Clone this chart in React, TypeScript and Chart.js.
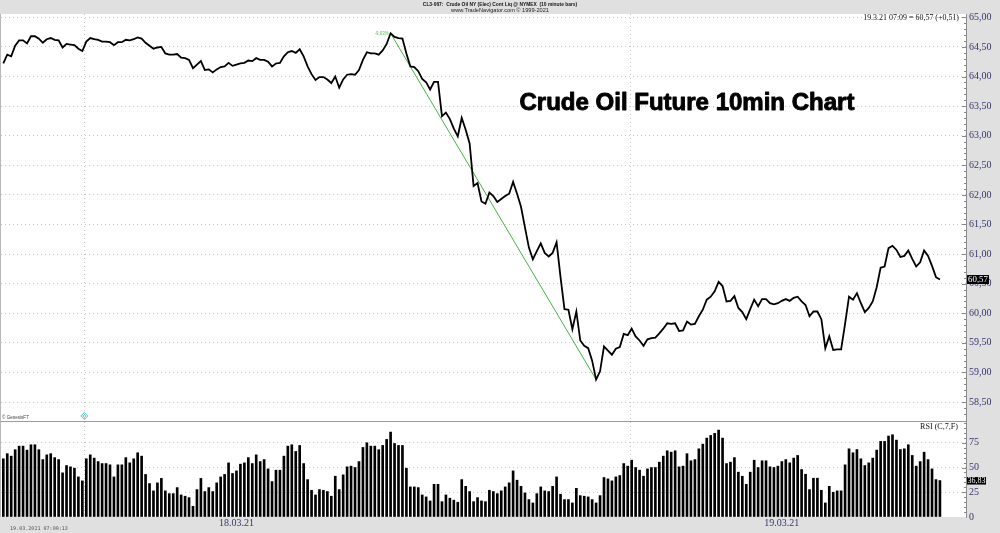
import React, { useEffect, useRef } from 'react';
import { Chart, registerables } from 'chart.js';

Chart.register(...registerables);

// ---- Data ----
const priceFirstDay = [
  64.22, 64.37, 64.34, 64.52, 64.61, 64.61, 64.56, 64.68, 64.68, 64.64,
  64.57, 64.63, 64.65, 64.62, 64.61, 64.49, 64.55, 64.54, 64.53, 64.47,
  64.43, 64.59, 64.65, 64.63, 64.62, 64.59, 64.59, 64.58, 64.53, 64.58,
  64.58, 64.62, 64.61, 64.63, 64.66, 64.64, 64.57, 64.52, 64.47, 64.49,
  64.50, 64.39, 64.37, 64.37, 64.38, 64.32, 64.31, 64.28, 64.14, 64.20,
  64.26, 64.11, 64.12, 64.07, 64.12, 64.16, 64.17, 64.23, 64.18, 64.20,
  64.22, 64.23, 64.27, 64.26, 64.31, 64.28, 64.28, 64.25, 64.17, 64.22,
  64.23, 64.34, 64.41, 64.43, 64.40, 64.46, 64.34, 64.17, 64.04, 63.94,
  63.99, 63.99, 63.95, 63.89, 64.00, 63.81, 63.95, 64.03, 64.04, 64.03,
  64.11, 64.28, 64.41, 64.39, 64.39, 64.37, 64.44, 64.55, 64.73, 64.67,
  64.65, 64.64, 64.39, 64.17, 64.16, 64.09, 63.96, 63.90, 63.78, 63.91,
  63.91, 63.33, 63.39, 63.28, 63.12, 62.99, 63.30, 63.10, 62.87, 62.15,
  62.20,
];
const priceSecondPart = [
  61.89, 61.85, 62.04, 61.98, 61.88, 61.93, 61.98, 62.02, 62.22, 62.02,
  61.80, 61.45, 61.11, 60.91, 61.05, 61.18, 61.02, 60.96, 61.02, 61.20,
  60.61, 60.07, 60.06, 59.73, 60.03, 59.54, 59.45, 59.41, 59.20, 58.88,
  59.02, 59.44, 59.37, 59.30, 59.40, 59.43, 59.65, 59.63, 59.74, 59.61,
  59.54, 59.45, 59.56, 59.58, 59.59, 59.66, 59.74, 59.83, 59.82, 59.83,
  59.70, 59.71, 59.86, 59.81, 59.82, 59.95, 60.06, 60.23, 60.28, 60.37,
  60.53, 60.46, 60.20, 60.21, 60.29, 60.09, 60.02, 59.90, 60.07, 60.23,
  60.12, 60.24, 60.24, 60.17, 60.15, 60.17, 60.21, 60.24, 60.21, 60.26,
  60.28, 60.20, 60.14, 59.95, 60.03, 60.03, 59.90, 59.41, 59.61, 59.38,
  59.39, 59.39, 59.82, 60.28, 60.23, 60.34, 60.17, 60.02, 60.09, 60.20,
  60.44, 60.77, 60.79, 61.10, 61.14, 61.07, 60.95, 60.97, 61.06, 60.92,
  60.79, 60.86, 61.06, 60.97, 60.80, 60.61, 60.57,
];
const rsiFirstPart = [
  58.8, 64, 61.5, 68, 71.6, 71.6, 67.6, 73, 73, 68,
  58, 62.8, 64, 60, 58, 44.6, 52, 50.7, 49.3, 40.5,
  36.5, 58.8, 62.8, 59.5, 56, 54, 54, 52.7, 40.5, 52.7,
  52.7, 60, 54.7, 58.8, 64.9, 61.5, 43, 33.8, 26.4, 34.5,
  39, 26.4, 23.6, 23.6, 29.7, 22.3, 21, 19.6, 10.8, 27.7,
  39, 25.7, 29.7, 25.7, 34.5, 40.5, 43, 54.7, 44, 46.6,
  53.4, 54.7, 60, 54, 62.8, 56, 58, 48.6, 35.8, 47.3,
  47.3, 61.5, 71.6, 73, 66.2, 72.3, 54, 37.8, 27, 22.3,
  27.7, 27, 25.7, 21, 41.2, 27.7, 42.6, 50.7, 51.4, 50,
  56, 70.3, 75, 71.6, 71.6, 68, 72.3, 78.4, 85.8, 74.3,
  72.3, 72.3, 49.3, 30.4, 30.4, 29.7, 22.3, 20.3, 16.2, 33,
  33, 15.5, 22.3, 19, 17, 14.9, 37.8, 31, 25.7, 15.5,
  19.6,
];
const rsiSecondPart = [
  16.2, 15.5, 27, 25.7, 23.6, 26.4, 30.4, 34.5, 46.6, 37.2,
  31, 24.3, 17.6, 14.2, 23.6, 30.4, 26.4, 25.7, 31, 40.5,
  23, 17.6, 17.6, 14.2, 29, 21.6, 21, 20.3, 17.6, 14.2,
  21.6, 39.9, 38.5, 36.5, 40.5, 41.9, 54, 51.4, 57.4, 50,
  47.3, 41.2, 48.6, 50, 50, 55.4, 61.5, 66.9, 65.5, 66.9,
  50.7, 51.4, 64, 56.8, 58, 68.9, 73.6, 79.7, 82.4, 84.5,
  87.8, 79.7, 54, 55.4, 60, 45.3, 41.2, 33, 45.3, 57.4,
  50, 56.8, 56.8, 50.7, 50, 51.4, 56, 58, 54.7, 59.5,
  62.2, 48, 43.2, 27.7, 39.2, 39.2, 27, 14.2, 31, 25,
  26.4, 26.4, 52.7, 68.9, 64.9, 68.2, 58.8, 52, 54.7, 59.5,
  67.6, 76.4, 76.4, 81.8, 83.1, 77.7, 68.2, 68.9, 73, 62.2,
  51.4, 56, 65.5, 58, 48.6, 37.8, 36.83,
];
const price = [...priceFirstDay, ...priceSecondPart];
const rsi = [...rsiFirstPart, ...rsiSecondPart];

const priceTicks = [58.5, 59, 59.5, 60, 60.5, 61, 61.5, 62, 62.5, 63, 63.5, 64, 64.5, 65];
const rsiTicks = [0, 25, 50, 75];
const dateTickIndex = [59, 197];
const dateLabels = ['18.03.21', '19.03.21'];
const sessionBreaks = [20.5, 158.5];
const trendFrom = 98;
const trendTo = 150;
const trendLabel = '-9,03%';
const headerLine1 = 'CL3-067:  Crude Oil NY (Elec) Cont Liq @ NYMEX  (10 minute bars)';
const headerLine2 = 'www.TradeNavigator.com \u00A9 1999-2021';
const quoteText = '19.3.21 07:09 = 60,57 (+0,51)';
const titleText = 'Crude Oil Future 10min Chart';
const rsiTitle = 'RSI (C,7,F)';
const stampText = '19.03.2021 07:09:13';
const creditText = '\u00A9 GenesisFT';

const SERIF = "'Liberation Serif', 'DejaVu Serif', serif";
const SANS = "'Liberation Sans', Arial, sans-serif";
const MONO = "'DejaVu Sans Mono', 'Liberation Mono', monospace";
const NAVY = '#35356f';
const GRAY_BG = '#e0e0e0';

const fmt = (v: number) => v.toFixed(2).replace('.', ',');

function fitFont(ctx: CanvasRenderingContext2D, text: string, weight: string, family: string, target: number) {
  ctx.font = `${weight} 10px ${family}`;
  const w = ctx.measureText(text).width;
  const size = (10 * target) / w;
  ctx.font = `${weight} ${size}px ${family}`;
}

export default function App() {
  const ref = useRef<HTMLCanvasElement>(null);

  useEffect(() => {
    document.body.style.margin = '0';
    const canvas = ref.current!;
    const ctx0 = canvas.getContext('2d')!;

    const decor = {
      id: 'decor',
      beforeDraw(chart: any) {
        const { ctx, width, height } = chart;
        const ca = chart.chartArea;
        ctx.save();
        ctx.fillStyle = '#ffffff';
        ctx.fillRect(0, 0, width, height);
        ctx.fillStyle = GRAY_BG;
        ctx.fillRect(0, 0, width, ca.top);
        ctx.fillRect(ca.right, ca.top, width - ca.right, ca.bottom - ca.top);
        ctx.fillRect(0, ca.bottom, width, height - ca.bottom);
        ctx.restore();
      },
      beforeDatasetsDraw(chart: any) {
        const { ctx } = chart;
        const ca = chart.chartArea;
        const xs = chart.scales.x;
        ctx.save();
        ctx.strokeStyle = '#c4c4c4';
        ctx.lineWidth = 1;
        ctx.setLineDash([1, 3]);
        sessionBreaks.forEach((b) => {
          const px = Math.round(xs.getPixelForValue(b)) + 0.5;
          ctx.beginPath();
          ctx.moveTo(px, ca.top);
          ctx.lineTo(px, ca.bottom);
          ctx.stroke();
        });
        ctx.restore();
      },
      afterDraw(chart: any) {
        const { ctx } = chart;
        const ca = chart.chartArea;
        const xs = chart.scales.x;
        const ys = chart.scales.y;
        const rs = chart.scales.rsi;
        ctx.save();

        // panel separator and left border
        ctx.strokeStyle = '#9c9c9c';
        ctx.lineWidth = 1;
        ctx.beginPath();
        ctx.moveTo(0, Math.round(rs.top) + 0.5);
        ctx.lineTo(ca.right, Math.round(rs.top) + 0.5);
        ctx.stroke();
        ctx.strokeStyle = '#b8b8b8';
        ctx.beginPath();
        ctx.moveTo(0.5, ca.top);
        ctx.lineTo(0.5, ca.bottom);
        ctx.stroke();

        // minor/major tick marks on the right axes
        ctx.strokeStyle = '#888';
        const axX = ca.right;
        for (let v = 58.3; v <= 65.05; v += 0.1) {
          const py = Math.round(ys.getPixelForValue(v)) + 0.5;
          const major = Math.abs(v * 2 - Math.round(v * 2)) < 0.01;
          ctx.beginPath();
          ctx.moveTo(axX - (major ? 4 : 2), py);
          ctx.lineTo(axX, py);
          ctx.stroke();
        }
        for (let v = 5; v <= 95; v += 5) {
          const py = Math.round(rs.getPixelForValue(v)) + 0.5;
          const major = v % 25 === 0;
          ctx.beginPath();
          ctx.moveTo(axX - (major ? 4 : 2), py);
          ctx.lineTo(axX, py);
          ctx.stroke();
        }

        // header
        ctx.fillStyle = '#111';
        ctx.textAlign = 'center';
        ctx.textBaseline = 'middle';
        fitFont(ctx, headerLine1, 'bold', SANS, 155);
        ctx.fillText(headerLine1, 500, 4.8);
        ctx.fillStyle = '#222';
        fitFont(ctx, headerLine2, 'normal', SANS, 98);
        ctx.fillText(headerLine2, 500, 10.4);

        // quote text top right
        ctx.fillStyle = '#111';
        ctx.textAlign = 'right';
        fitFont(ctx, quoteText, 'normal', SERIF, 96);
        ctx.fillText(quoteText, 959, 17.8);

        // big title (slightly heavier, like the reference)
        ctx.fillStyle = '#000';
        ctx.strokeStyle = '#000';
        ctx.lineWidth = 0.9;
        ctx.lineJoin = 'round';
        ctx.textAlign = 'left';
        ctx.textBaseline = 'alphabetic';
        fitFont(ctx, titleText, 'bold', SANS, 335);
        ctx.fillText(titleText, 519.5, 110);
        ctx.strokeText(titleText, 519.5, 110);
        ctx.lineWidth = 1;

        // RSI title
        ctx.fillStyle = '#111';
        ctx.textAlign = 'right';
        ctx.textBaseline = 'middle';
        fitFont(ctx, rsiTitle, 'normal', SERIF, 38);
        ctx.fillText(rsiTitle, 958, 427);

        // trend label
        const peakX = xs.getPixelForValue(trendFrom);
        const peakY = ys.getPixelForValue(price[trendFrom]);
        ctx.fillStyle = '#55c055';
        fitFont(ctx, trendLabel, 'normal', SANS, 14);
        ctx.fillText(trendLabel, peakX - 2, peakY);

        // credit + diamond
        ctx.fillStyle = '#444';
        ctx.textAlign = 'left';
        fitFont(ctx, creditText, 'normal', SANS, 27);
        ctx.fillText(creditText, 2, 418);
        const dx = xs.getPixelForValue(sessionBreaks[0]);
        ctx.strokeStyle = '#52c3cc';
        ctx.lineWidth = 1;
        ctx.beginPath();
        ctx.moveTo(dx, 412.5);
        ctx.lineTo(dx + 3.5, 416);
        ctx.lineTo(dx, 419.5);
        ctx.lineTo(dx - 3.5, 416);
        ctx.closePath();
        ctx.stroke();
        ctx.beginPath();
        ctx.moveTo(dx, 414.5);
        ctx.lineTo(dx + 1.5, 416);
        ctx.lineTo(dx, 417.5);
        ctx.lineTo(dx - 1.5, 416);
        ctx.closePath();
        ctx.stroke();

        // timestamp
        ctx.fillStyle = '#555';
        fitFont(ctx, stampText, 'normal', MONO, 58);
        ctx.fillText(stampText, 10, 529);

        // value boxes
        const lastP = price[price.length - 1];
        const lastR = rsi[rsi.length - 1];
        const pY = ys.getPixelForValue(lastP);
        ctx.fillStyle = '#000';
        ctx.fillRect(axX + 1, pY - 4.5, 22, 9);
        ctx.fillStyle = '#fff';
        fitFont(ctx, fmt(lastP), 'normal', SERIF, 20);
        ctx.fillText(fmt(lastP), axX + 2, pY);
        const rY = rs.getPixelForValue(lastR);
        ctx.fillStyle = '#000';
        ctx.fillRect(axX + 1, rY - 3.5, 19, 7.5);
        ctx.fillStyle = '#fff';
        fitFont(ctx, fmt(lastR), 'normal', SERIF, 18);
        ctx.fillText(fmt(lastR), axX + 1.5, rY + 0.3);

        ctx.restore();
      },
    };

    const gridColor = (c: any) => (c.tick && c.tick.value === 0 ? 'rgba(0,0,0,0)' : '#c9c9c9');

    const chart = new Chart(ctx0, {
      type: 'bar',
      data: {
        datasets: [
          {
            type: 'line',
            label: 'Close',
            data: price.map((y, x) => ({ x, y })),
            xAxisID: 'x',
            yAxisID: 'y',
            borderColor: '#000',
            borderWidth: 1.8,
            pointRadius: 0,
            tension: 0,
            order: 0,
          } as any,
          {
            type: 'line',
            label: 'Trend',
            data: [
              { x: trendFrom, y: price[trendFrom] },
              { x: trendTo, y: price[trendTo] },
            ],
            xAxisID: 'x',
            yAxisID: 'y',
            borderColor: '#44b444',
            borderWidth: 1,
            pointRadius: 0,
            tension: 0,
            order: 1,
          } as any,
          {
            type: 'bar',
            label: 'RSI',
            data: rsi.map((y, x) => ({ x, y })),
            xAxisID: 'x',
            yAxisID: 'rsi',
            backgroundColor: '#000',
            barThickness: 2,
            order: 2,
          } as any,
        ],
      },
      options: {
        responsive: false,
        animation: false,
        devicePixelRatio: 1,
        layout: { padding: { top: 14, left: 1, right: 0, bottom: 0 } },
        plugins: {
          legend: { display: false },
          tooltip: { enabled: false },
        },
        events: [],
        scales: {
          x: {
            type: 'linear',
            min: -0.582,
            max: 243.6,
            offset: false,
            grid: { display: false, drawTicks: false },
            border: { display: false },
            afterBuildTicks: (s: any) => {
              s.ticks = dateTickIndex.map((v) => ({ value: v }));
            },
            afterFit: (s: any) => {
              s.height = 16;
            },
            ticks: {
              autoSkip: false,
              maxRotation: 0,
              padding: 0,
              color: NAVY,
              font: { family: SERIF, size: 10 },
              callback: (_v: any, i: number) => dateLabels[i],
            },
          },
          y: {
            type: 'linear',
            position: 'right',
            stack: 'panels',
            stackWeight: 407,
            min: 58.18,
            max: 65.056,
            afterBuildTicks: (s: any) => {
              s.ticks = priceTicks.map((v) => ({ value: v }));
            },
            afterFit: (s: any) => {
              s.width = 34;
            },
            grid: { color: '#c9c9c9', lineWidth: 1, drawTicks: false },
            border: { display: true, color: '#8a8a8a', dash: [1, 3] },
            ticks: {
              padding: 3,
              color: NAVY,
              font: { family: SERIF, size: 10 },
              callback: (v: any) => fmt(Number(v)),
            },
          },
          rsi: {
            type: 'linear',
            position: 'right',
            stack: 'panels',
            stackWeight: 96,
            min: 0,
            max: 97,
            afterBuildTicks: (s: any) => {
              s.ticks = rsiTicks.map((v) => ({ value: v }));
            },
            afterFit: (s: any) => {
              s.width = 34;
            },
            grid: { color: gridColor, lineWidth: 1, drawTicks: false },
            border: { display: true, color: '#8a8a8a', dash: [1, 3] },
            ticks: {
              padding: 3,
              color: NAVY,
              font: { family: SERIF, size: 10 },
              callback: (v: any) => String(v),
            },
          },
        },
      } as any,
      plugins: [decor],
    });

    return () => chart.destroy();
  }, []);

  return (
    <div style={{ position: 'relative', width: 1000, height: 533 }}>
      <canvas ref={ref} width={1000} height={533} style={{ display: 'block' }} />
    </div>
  );
}
